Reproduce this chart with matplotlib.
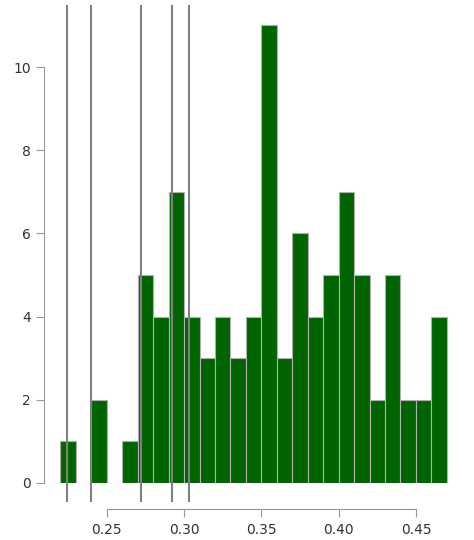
import numpy as np
import matplotlib.pyplot as plt

bin_edges = np.round(np.arange(0.22, 0.4701, 0.01), 2)
counts = [1, 0, 2, 0, 1, 5, 4, 7, 4, 3, 4, 3, 4, 11, 3, 6, 4, 5, 7, 5, 2, 5, 2, 2, 4]
vlines_x = [0.224, 0.240, 0.272, 0.292, 0.303]

fig = plt.figure(figsize=(4.74, 5.40), dpi=100)
ax = fig.add_axes([44 / 474, 57 / 540, 416 / 474, 478.4 / 540])

ax.bar(bin_edges[:-1], counts, width=0.01, align='edge', color='#006400',
       edgecolor='#b0b0b0', linewidth=0.8)
ax.vlines(vlines_x, -0.46, 11.5, color='#808080', linewidth=1.5, clip_on=False)

ax.set_xlim(0.2094, 0.4785)
ax.set_ylim(0, 11.5)
for s in ['top', 'right']:
    ax.spines[s].set_visible(False)
ax.spines['bottom'].set_position(('outward', 19))
ax.spines['bottom'].set_bounds(0.25, 0.45)
ax.spines['left'].set_bounds(0, 10)
for s in ['bottom', 'left']:
    ax.spines[s].set_color('#999999')
ax.set_xticks([0.25, 0.30, 0.35, 0.40, 0.45])
ax.set_xticklabels(['0.25', '0.30', '0.35', '0.40', '0.45'])
ax.set_yticks(range(0, 11, 2))
ax.tick_params(colors='#999999', labelcolor='#333333', labelsize=10, length=6)

fig.savefig('out.png', dpi=100)
